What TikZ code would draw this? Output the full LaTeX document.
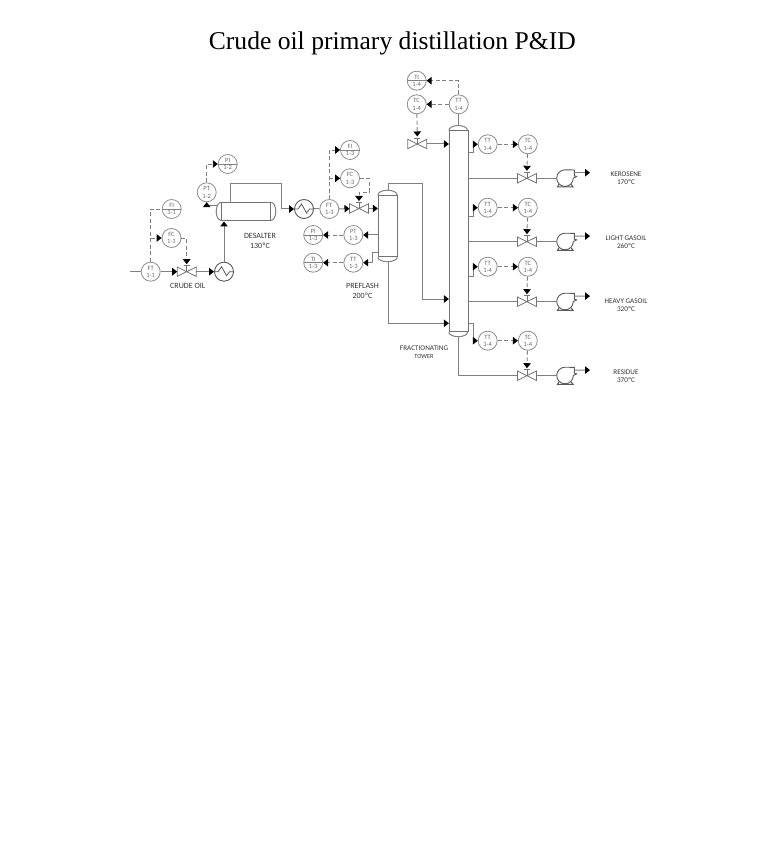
\documentclass[tikz,border=0pt]{standalone}
\usepackage{fontspec}
\setmainfont{Carlito}
\newfontfamily\titlefont{Liberation Serif}
\usetikzlibrary{positioning,arrows.meta}
\tikzset{inst node/.style={circle,draw=black!45,line width=0.8pt,minimum size=19pt,inner sep=0pt,align=center,
                text=black!60,font=\fontsize{6.5}{7.5}\selectfont},
         ind node/.style={inst node,path picture={\draw[black!50,line width=0.7pt] (path picture bounding box.west) -- (path picture bounding box.east);}},
         hx node/.style={circle,draw=black!65,line width=0.9pt,minimum size=19pt,inner sep=0pt},
         valve node/.style={rectangle,minimum width=18.6pt,minimum height=9pt,inner sep=0pt},
         vessel node/.style={rectangle,draw=black!55,line width=1pt,inner sep=0pt},
         label node/.style={align=center,text=black!80,font=\fontsize{8}{10}\selectfont},
         small label/.style={label node,font=\fontsize{7.2}{8.3}\selectfont},
         proc/.style={draw=black!50,line width=1pt},
         signal/.style={draw=black!50,line width=0.9pt,dash pattern=on 4pt off 2.5pt},
         tip/.style={-{Triangle[length=5pt,width=7.5pt,color=black,fill=black]}},
            }
\newcommand{\valve}[2]{
    \node[valve node] (#1) at #2 {};
    \draw[draw=black!55,line width=0.8pt] (#1.north west) -- (#1.south east) -- (#1.north east) -- (#1.south west) -- cycle;
    \draw[draw=black!55,line width=0.8pt] (#1.center) -- ++(0pt,6pt) ++(-3pt,0pt) -- ++(6pt,0pt);
    \coordinate[above=7.5pt of #1.center] (#1act);
}
\newcommand{\pump}[2]{
    \node[circle,minimum size=16.6pt,inner sep=0pt] (#1) at #2 {};
    \draw[draw=black!65,line width=0.9pt] (#1.north) arc[radius=8.3pt,start angle=90,end angle=360] .. controls ([shift={(4pt,2pt)}]#1.east) .. ([shift={(9.3pt,2.4pt)}]#1.center) -- ++(0pt,5.9pt) -- (#1.north);
    \draw[draw=black!65,line width=1pt] (#1.south west) -- ++(-1.5pt,-2.6pt) -- ++(15.6pt,0pt) -- (#1.south east);
    \coordinate (#1out) at ([shift={(9.3pt,5.6pt)}]#1.center);
}
\newcommand{\zigzag}[1]{
    \draw[draw=black!65,line width=0.8pt] (#1.west) -- ++(4pt,0pt) -- ++(3.5pt,5pt) -- ++(5pt,-9pt) -- ++(3pt,4pt) -- (#1.east);
}

\begin{document}
\begin{tikzpicture}[x=1pt,y=-1pt]
    \useasboundingbox (0,0) rectangle (768,866);
    \node[font=\titlefont\fontsize{25.6}{30}\selectfont] (title) at (392.3,43.5) {Crude oil primary distillation P\&ID};

    % crude feed and desalter
    \coordinate (feed) at (130,271.7);
    \node[inst node] (ft11) at (150.7,271.7) {FT\\1-1};
    \node[ind node] (fi11) at (171.7,209) {FI\\1-1};
    \node[inst node] (fc11) at (171.5,238) {FC\\1-1};
    \valve{v1}{(186.7,271.7)}
    \node[hx node] (hx1) at (224,271.7) {};
    \zigzag{hx1}
    \node[vessel node,minimum width=48.6pt,minimum height=18.3pt] (des) at (246,211.85) {};
    \draw[proc] (des.north west) arc[x radius=5pt,y radius=9.15pt,start angle=90,end angle=270];
    \draw[proc] (des.north east) arc[x radius=5pt,y radius=9.15pt,start angle=90,end angle=-90];
    \coordinate (desleft) at (217.5,205.7);
    \node[inst node] (pt12) at (206.7,192.3) {PT\\1-2};
    \node[ind node] (pi12) at (227.7,164) {PI\\1-2};
    \node[hx node] (hx2) at (304,209) {};
    \zigzag{hx2}
    \node[inst node] (ft13) at (329.3,209) {FT\\1-3};
    \node[ind node] (fi13) at (350,150) {FI\\1-3};
    \node[inst node] (fc13) at (350,178.3) {FC\\1-3};
    \valve{v2}{(359,208.5)}

    % preflash
    \node[vessel node,minimum width=19.4pt,minimum height=61pt] (pre) at (388,226.2) {};
    \draw[proc] (pre.north west) arc[x radius=9.7pt,y radius=5pt,start angle=180,end angle=0];
    \draw[proc] (pre.south west) arc[x radius=9.7pt,y radius=4.5pt,start angle=180,end angle=360];
    \coordinate[above=5pt of pre.north] (pretop);
    \coordinate[below=4.5pt of pre.south] (prebot);
    \node[inst node] (pt13) at (353.3,235) {PT\\1-3};
    \node[ind node] (pi13) [left = 20.3pt of pt13] {PI\\1-3};
    \node[inst node] (tt13) at (353.3,262.7) {TT\\1-3};
    \node[ind node] (ti13) [left = 20.3pt of tt13] {TI\\1-3};

    % tower
    \node[vessel node,minimum width=18.7pt,minimum height=200.7pt] (tower) at (458.7,231.35) {};
    \draw[proc] (tower.north west) arc[x radius=9.35pt,y radius=5pt,start angle=180,end angle=0];
    \draw[proc] (tower.south west) arc[x radius=9.35pt,y radius=4.5pt,start angle=180,end angle=360];
    \coordinate[above=5pt of tower.north] (towertop);
    \coordinate[below=4.5pt of tower.south] (towerbot);
    \node[inst node] (tt14) at (458.7,104.3) {TT\\1-4};
    \node[inst node] (tc14) at (416.7,104.3) {TC\\1-4};
    \node[ind node] (ti14) at (416.7,80.7) {TI\\1-4};
    \valve{v3}{(417.3,144)}

    % draw-offs
    \node[inst node] (tta) at (487.7,144.3) {TT\\1-4};
    \node[inst node] (tca) [right = 20.3pt of tta] {TC\\1-4};
    \valve{va}{(526.9,178.3)}
    \pump{pa}{(565,178.3)}
    \node[inst node] (ttb) at (487.7,207.7) {TT\\1-4};
    \node[inst node] (tcb) [right = 20.3pt of ttb] {TC\\1-4};
    \valve{vb}{(526.9,241.7)}
    \pump{pb}{(565,241.7)}
    \node[inst node] (ttc) at (487.7,266.7) {TT\\1-4};
    \node[inst node] (tcc) [right = 20.3pt of ttc] {TC\\1-4};
    \valve{vc}{(526.9,301.7)}
    \pump{pc}{(565,301.7)}
    \node[inst node] (ttd) at (487.7,340.7) {TT\\1-4};
    \node[inst node] (tcd) [right = 20.3pt of ttd] {TC\\1-4};
    \valve{vd}{(526.9,375.7)}
    \pump{pd}{(565,375.7)}
    \coordinate (enda) at (590,172.7);
    \coordinate (endb) at (590,236.1);
    \coordinate (endc) at (590,296.1);
    \coordinate (endd) at (590,370.1);

    % labels
    \node[label node] (crude) at (187.7,285.7) {CRUDE OIL};
    \node[label node] (deslab) at (260,241) {DESALTER\\130ºC};
    \node[label node] (prelab) at (362.5,291) {PREFLASH\\200ºC};
    \node[small label] (towlab) at (424,347.7) {FRACTIONATING};
    \node[small label,font=\fontsize{6.3}{8}\selectfont] (towlab2) at (424,356) {TOWER};
    \node[small label] (laba) at (626,178.3) {KEROSENE\\170ºC};
    \node[small label] (labb) at (626,242.5) {LIGHT GASOIL\\260ºC};
    \node[small label] (labc) at (626,305) {HEAVY GASOIL\\320ºC};
    \node[small label] (labd) at (626,376.2) {RESIDUE\\370ºC};

    % process lines
    \path[proc]
    (feed) edge (ft11)
    (ft11) edge[tip] (v1)
    (v1) edge[tip] (hx1)
    (hx1) edge[tip] (hx1 |- des.south)
    (hx2) edge (ft13)
    (ft13) edge[tip] (v2)
    (v2) edge[tip] (pre.west |- v2)
    (pre.west |- pt13) edge[tip] (pt13)
    (towertop) edge (tt14)
    (v3) edge[tip] (tower.west |- v3)
    (tower.east |- va) edge (va)
    (va) edge (pa)
    (tower.east |- vb) edge (vb)
    (vb) edge (pb)
    (tower.east |- vc) edge (vc)
    (vc) edge (pc)
    (vd) edge (pd)
    (paout) edge[tip] (enda)
    (pbout) edge[tip] (endb)
    (pcout) edge[tip] (endc)
    (pdout) edge[tip] (endd);
    \draw[proc,tip] (desleft) -| (pt12);
    \draw[proc,tip] (pre.west |- 0,252.3) -- (372.3,252.3) |- (tt13);
    \draw[proc,tip] (230.7,202.7) |- (281.7,183.3) |- (hx2);
    \draw[proc,tip] (pretop) |- (422.7,183.3) |- (tower.west |- 0,299);
    \draw[proc,tip] (prebot) |- (tower.west |- 0,323.3);
    \draw[proc] (towerbot) |- (vd);
    \draw[proc,tip] (tower.east |- 0,152.5) -- (473.3,152.5) |- (tta);
    \draw[proc,tip] (tower.east |- 0,216.7) -- (473.3,216.7) |- (ttb);
    \draw[proc,tip] (tower.east |- 0,276.7) -- (473.3,276.7) |- (ttc);
    \draw[proc,tip] (tower.east |- 0,323.3) -- (473.3,323.3) |- (ttd);

    % signal lines
    \draw[signal] (ft11) |- (fi11);
    \draw[signal,tip] (ft11.north |- fc11) -- (fc11);
    \draw[signal,tip] (fc11) -| (v1act);
    \draw[signal,tip] (pt12) |- (pi12);
    \draw[signal,tip] (ft13) |- (fi13);
    \draw[signal,tip] (ft13.north |- fc13) -- (fc13);
    \draw[signal,tip] (fc13) -| (369.3,192.3) -| (v2act);
    \draw[signal,tip] (pt13) -- (pi13);
    \draw[signal,tip] (tt13) -- (ti13);
    \draw[signal,tip] (tt14) -- (tc14);
    \draw[signal,tip] (tt14) |- (ti14);
    \draw[signal,tip] (tc14) -- (v3act);
    \draw[signal,tip] (tta) -- (tca);
    \draw[signal,tip] (ttb) -- (tcb);
    \draw[signal,tip] (ttc) -- (tcc);
    \draw[signal,tip] (ttd) -- (tcd);
    \draw[signal,tip] (tca) -- (vaact);
    \draw[signal,tip] (tcb) -- (vbact);
    \draw[signal,tip] (tcc) -- (vcact);
    \draw[signal,tip] (tcd) -- (vdact);
\end{tikzpicture}
\end{document}
